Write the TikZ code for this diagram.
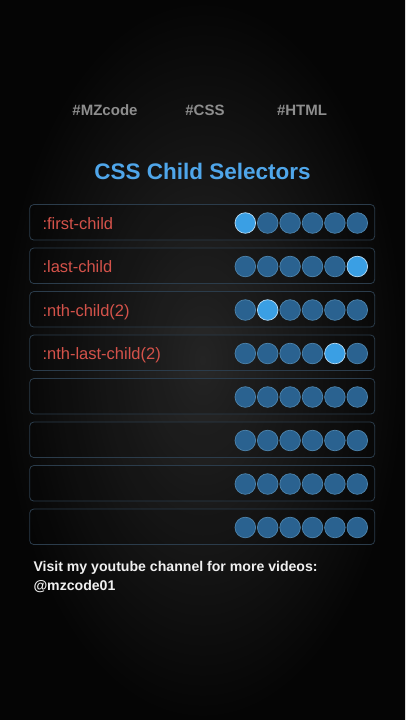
\documentclass[tikz,border=0pt]{standalone}
\usepackage{fontspec}
\setmainfont{Liberation Sans}
\usetikzlibrary{positioning}

\definecolor{bgmid}{HTML}{292929}
\definecolor{bgout}{HTML}{050505}
\definecolor{rowline}{HTML}{2B3C4B}
\definecolor{selred}{HTML}{D4524A}
\definecolor{dotfill}{HTML}{2A6290}
\definecolor{dotline}{HTML}{4E84AC}
\definecolor{hotfill}{HTML}{3A9FE4}
\definecolor{hotline}{HTML}{B8DDF6}
\definecolor{taggray}{HTML}{8E8E8E}
\definecolor{titleblue}{HTML}{4FA6EA}
\definecolor{footwhite}{HTML}{F0F0F0}

\begin{document}
\begin{tikzpicture}[x=1pt, y=-1pt,
	row/.style={draw=rowline, fill=black, fill opacity=0.12, rounded corners=4pt,
		minimum width=345pt, minimum height=35.5pt, line width=0.8pt, inner sep=0pt},
	sel/.style={text=selred, font=\fontsize{16.5}{19}\selectfont, anchor=base west, inner sep=0pt},
	dot/.style={circle, draw=dotline, fill=dotfill, minimum size=20.6pt, inner sep=0pt, line width=0.7pt},
	hot/.style={dot, draw=hotline, fill=hotfill},
	tag/.style={text=taggray, font=\bfseries\fontsize{15}{18}\selectfont, anchor=base, inner sep=0pt},
	foot/.style={text=footwhite, font=\bfseries\fontsize{14.1}{18}\selectfont, anchor=base west, inner sep=0pt}]

	% Background
	\useasboundingbox (0,0) rectangle (405,720);
	\shade [inner color=bgmid, outer color=bgout] (0,0) rectangle (405,720);

	% Tags and title
	\node [tag] (mz)   at (105,115.5) {\#MZcode};
	\node [tag] (css)  at (205,115.5) {\#CSS};
	\node [tag] (html) at (302,115.5) {\#HTML};
	\node [text=titleblue, font=\bfseries\fontsize{22.5}{26}\selectfont, anchor=base, inner sep=0pt]
		(title) at (202.5,179.5) {CSS Child Selectors};

	% Rows {row1, row2, ...} with dots {d1-1, d1-2, ...}
	\foreach \i/\hit in {1/1, 2/6, 3/2, 4/5, 5/0, 6/0, 7/0, 8/0} {
		\node [row] (row\i) at (202.2,{222.3+43.5*(\i-1)}) {};
		\foreach \j in {1,...,6} {
			\ifnum\j=\hit \def\look{hot}\else\def\look{dot}\fi
			\node [\look] (d\i-\j) at ({245.3+22.4*(\j-1)},{223+43.5*(\i-1)}) {};
		}
	}

	% Selector labels
	\node [sel] (first)    at ([shift={(13,7)}]row1.west) {:first-child};
	\node [sel] (last)     at ([shift={(13,7)}]row2.west) {:last-child};
	\node [sel] (nth)      at ([shift={(13,7)}]row3.west) {:nth-child(2)};
	\node [sel] (nthlast)  at ([shift={(13,7)}]row4.west) {:nth-last-child(2)};

	% Footer
	\node [foot] (visit)  at (33.3,571.5) {Visit my youtube channel for more videos:};
	\node [foot] (handle) at (33.3,590)   {@mzcode01};

\end{tikzpicture}
\end{document}
